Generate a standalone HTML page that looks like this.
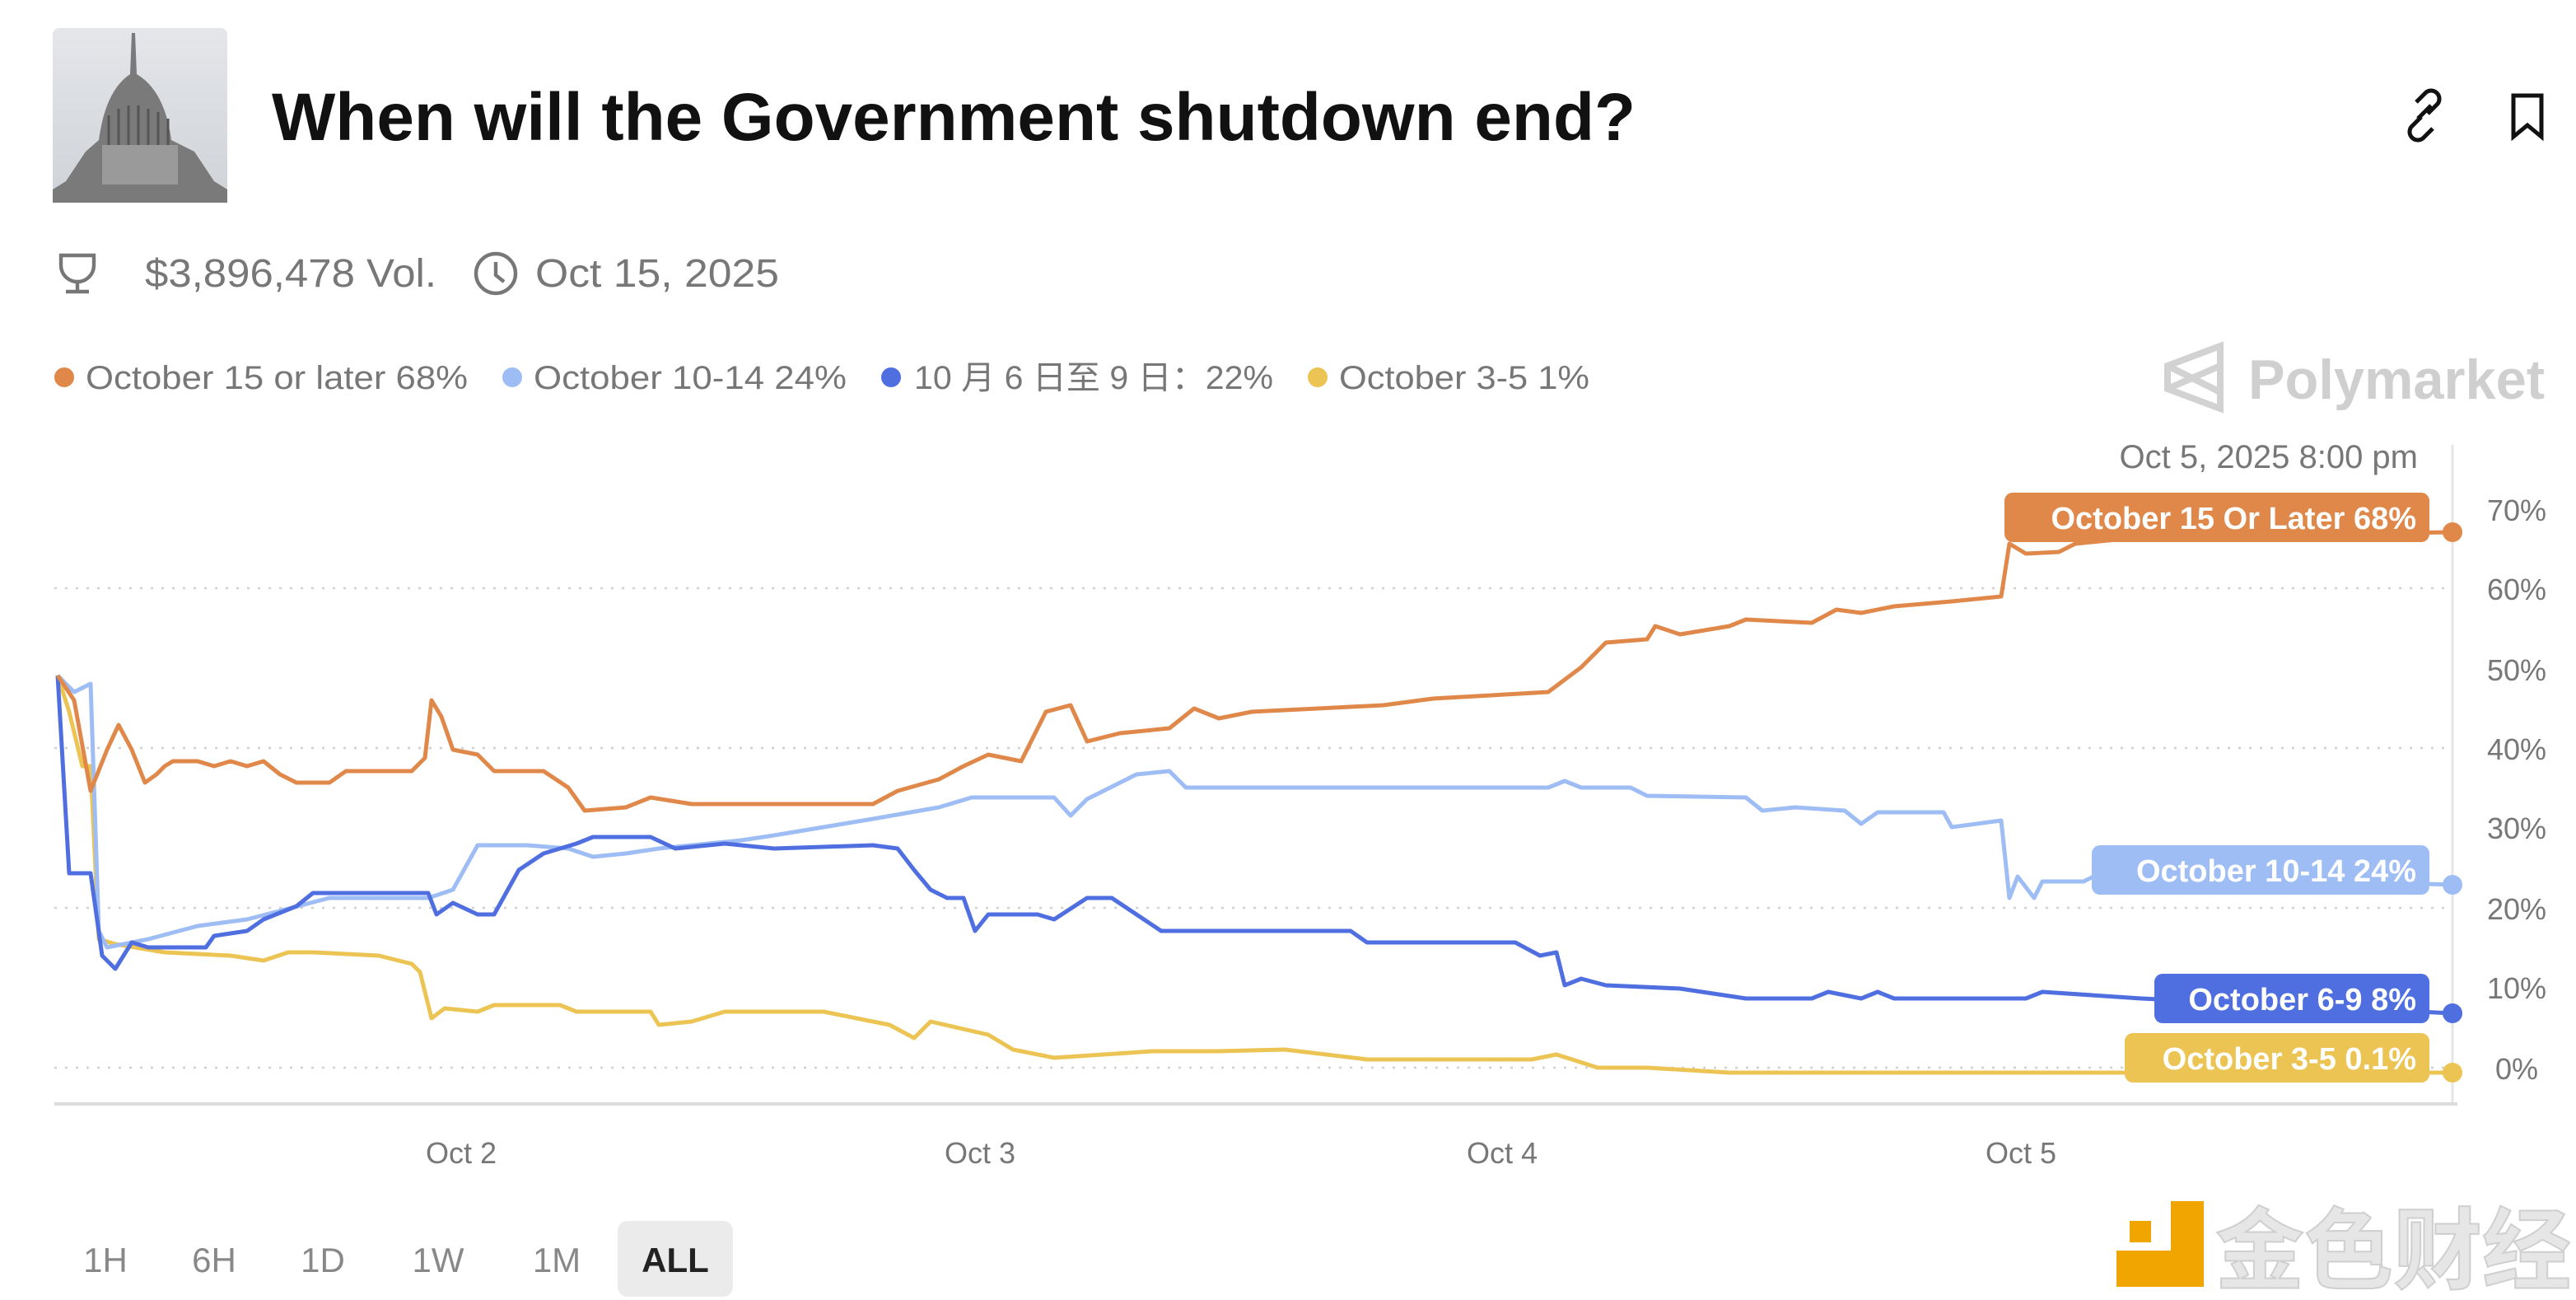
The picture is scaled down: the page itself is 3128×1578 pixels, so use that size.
<!DOCTYPE html>
<html><head><meta charset="utf-8"><style>
html,body{margin:0;padding:0;background:#fff;width:3128px;height:1578px;overflow:hidden}
svg{display:block}
text{font-family:"Liberation Sans","Noto Sans CJK SC",sans-serif}
</style></head><body>
<svg width="3128" height="1578" viewBox="0 0 1564 789" xmlns="http://www.w3.org/2000/svg">
<defs><linearGradient id="sky" x1="0" y1="0" x2="0" y2="1"><stop offset="0" stop-color="#e4e6ea"/><stop offset="1" stop-color="#cfd2d6"/></linearGradient></defs>
<rect x="32" y="17" width="106" height="106" rx="4" fill="url(#sky)"/>
<path d="M80 20 L82 20 L83 45 Q100 55 104 85 L118 92 L130 110 L138 115 L138 123 L32 123 L32 115 L40 110 L52 92 L60 85 Q64 55 79 45 Z" fill="#7a7a7a"/>
<path d="M62 88 L108 88 L108 112 L62 112 Z" fill="#9a9a9a"/>
<g stroke="#555" stroke-width="1.5"><line x1="66" y1="70" x2="66" y2="88"/><line x1="72" y1="66" x2="72" y2="88"/><line x1="78" y1="64" x2="78" y2="88"/><line x1="84" y1="64" x2="84" y2="88"/><line x1="90" y1="66" x2="90" y2="88"/><line x1="96" y1="68" x2="96" y2="88"/><line x1="102" y1="72" x2="102" y2="88"/></g>
<text x="165" y="85" font-size="41" font-weight="bold" fill="#111" textLength="828" lengthAdjust="spacingAndGlyphs">When will the Government shutdown end?</text>
<g fill="none" stroke="#111" stroke-width="2.5"><path d="M1467 62 l6 -6 a5 5 0 0 1 7 7 l-6 6"/><path d="M1477 78 l-6 6 a5 5 0 0 1 -7 -7 l6 -6"/><line x1="1468" y1="72" x2="1476" y2="64"/>
<path d="M1526 58 h17 v25 l-8.5 -7 l-8.5 7 z"/></g>
<g fill="none" stroke="#777" stroke-width="2.2"><path d="M37 155 h20 v6 a10 10 0 0 1 -20 0 z"/><line x1="47" y1="171" x2="47" y2="176"/><line x1="40" y1="177" x2="54" y2="177"/><circle cx="301" cy="166" r="12"/><path d="M301 159 v8 l5 4"/></g>
<text x="88" y="174" font-size="24" fill="#777" textLength="177" lengthAdjust="spacingAndGlyphs">$3,896,478 Vol.</text>
<text x="325" y="174" font-size="24" fill="#777" textLength="148" lengthAdjust="spacingAndGlyphs">Oct 15, 2025</text>
<g font-size="20" fill="#777">
<circle cx="39" cy="229" r="6" fill="#e0884a"/><text x="52" y="236" textLength="232" lengthAdjust="spacingAndGlyphs">October 15 or later 68%</text>
<circle cx="311" cy="229" r="6" fill="#9dbdf4"/><text x="324" y="236" textLength="190" lengthAdjust="spacingAndGlyphs">October 10-14 24%</text>
<circle cx="541" cy="229" r="6" fill="#4f6ee0"/><text x="555" y="236" textLength="218" lengthAdjust="spacingAndGlyphs">10 月 6 日至 9 日：22%</text>
<circle cx="800" cy="229" r="6" fill="#ecc454"/><text x="813" y="236" textLength="152" lengthAdjust="spacingAndGlyphs">October 3-5 1%</text>
</g>
<path d="M1316 222 L1348 210 L1348 248 L1316 236 Z M1316 222 L1348 238 M1316 236 L1348 222" fill="none" stroke="#d2d2d2" stroke-width="4"/>
<text x="1365" y="242" font-size="34" font-weight="bold" fill="#cfcfcf" textLength="180" lengthAdjust="spacingAndGlyphs">Polymarket</text>
<text x="1468" y="284" font-size="20" fill="#777" text-anchor="end">Oct 5, 2025 8:00 pm</text>
<g stroke="#d0d0d0" stroke-width="1.2" stroke-dasharray="1.5 5"><line x1="33" y1="357" x2="1485" y2="357"/><line x1="33" y1="454" x2="1485" y2="454"/><line x1="33" y1="551" x2="1485" y2="551"/><line x1="33" y1="648" x2="1485" y2="648"/></g>
<line x1="1489" y1="270" x2="1489" y2="670" stroke="#e6e6e6" stroke-width="1.5"/>
<line x1="33" y1="670" x2="1492" y2="670" stroke="#dcdcdc" stroke-width="2"/>
<g font-size="18" fill="#777"><text x="1510" y="316">70%</text><text x="1510" y="364">60%</text><text x="1510" y="413">50%</text><text x="1510" y="461">40%</text><text x="1510" y="509">30%</text><text x="1510" y="558">20%</text><text x="1510" y="606">10%</text><text x="1515" y="655">0%</text></g>
<g font-size="18" fill="#777" text-anchor="middle"><text x="280" y="706">Oct 2</text><text x="595" y="706">Oct 3</text><text x="912" y="706">Oct 4</text><text x="1227" y="706">Oct 5</text></g>
<g fill="none" stroke-width="2.5" stroke-linejoin="round">
<polyline stroke="#ecc454" points="35,410 42,432 50,465 55,465 60,570 70,573 100,578 140,580 160,583 175,578 190,578 230,580 250,585 255,590 262,618 270,612 290,614 300,610 340,610 350,614 395,614 400,622 420,620 440,614 500,614 540,622 555,630 565,620 600,628 615,637 640,642 700,638 740,638 780,637 830,643 930,643 945,640 970,648 1000,648 1050,651 1489,651"/>
<polyline stroke="#9dbdf4" points="35,410 45,420 55,415 60,565 65,575 90,570 120,562 150,558 200,545 260,545 275,540 290,513 320,513 345,515 360,520 380,518 400,515 450,510 470,507 500,502 530,497 570,490 590,484 640,484 650,495 660,485 690,470 710,468 720,478 940,478 950,474 960,478 990,478 1000,483 1060,484 1070,492 1090,490 1120,492 1130,500 1140,493 1180,493 1185,502 1215,498 1220,545 1225,532 1235,545 1240,535 1265,535 1275,530 1489,537"/>
<polyline stroke="#4f6ee0" points="35,410 42,530 55,530 62,580 70,588 80,572 90,575 125,575 130,568 150,565 160,558 180,550 190,542 260,542 265,555 275,548 290,555 300,555 315,528 330,518 350,512 360,508 395,508 410,515 440,512 470,515 530,513 545,515 555,528 565,540 575,545 585,545 592,565 600,555 630,555 640,558 660,545 675,545 690,555 705,565 820,565 830,572 920,572 935,580 945,578 950,598 960,594 975,598 1020,600 1060,606 1100,606 1110,602 1130,606 1140,602 1150,606 1230,606 1240,602 1300,606 1489,615"/>
<polyline stroke="#e0884a" points="35,410 45,425 55,480 65,455 72,440 80,455 88,475 95,470 100,465 105,462 120,462 130,465 140,462 150,465 160,462 170,470 180,475 200,475 210,468 250,468 258,460 262,425 268,435 275,455 290,458 300,468 330,468 345,478 355,492 380,490 395,484 420,488 530,488 545,480 570,473 585,465 600,458 620,462 635,432 650,428 660,450 680,445 710,442 725,430 740,436 760,432 800,430 840,428 870,424 940,420 960,405 975,390 1000,388 1005,380 1020,385 1050,380 1060,376 1100,378 1115,370 1130,372 1150,368 1185,365 1215,362 1220,330 1230,336 1250,335 1260,330 1300,326 1489,323"/>
</g>
<g font-size="19" font-weight="bold" fill="#fff" text-anchor="end">
<rect x="1217" y="299" width="258" height="30" rx="5" fill="#e0884a"/><text x="1467" y="321">October 15 Or Later 68%</text>
<rect x="1270" y="513" width="205" height="30" rx="5" fill="#9dbdf4"/><text x="1467" y="535">October 10-14 24%</text>
<rect x="1308" y="591" width="167" height="30" rx="5" fill="#4f6ee0"/><text x="1467" y="613">October 6-9 8%</text>
<rect x="1290" y="627" width="185" height="30" rx="5" fill="#ecc454"/><text x="1467" y="649">October 3-5 0.1%</text>
</g>
<circle cx="1489" cy="323" r="6" fill="#e0884a"/><circle cx="1489" cy="537" r="6" fill="#9dbdf4"/><circle cx="1489" cy="615" r="6" fill="#4f6ee0"/><circle cx="1489" cy="651" r="6" fill="#ecc454"/>
<rect x="375" y="741" width="70" height="46" rx="6" fill="#ebebeb"/>
<g font-size="21" fill="#888" text-anchor="middle"><text x="64" y="772">1H</text><text x="130" y="772">6H</text><text x="196" y="772">1D</text><text x="266" y="772">1W</text><text x="338" y="772">1M</text><text x="410" y="772" fill="#222" font-weight="bold">ALL</text></g>
<path d="M1318 729 h20 v52 h-53 v-22 h33 z" fill="#f0a500"/><rect x="1293" y="741" width="13" height="13" fill="#f0a500"/>
<text x="1345" y="778" font-size="54" font-weight="bold" fill="#e6e6e6" stroke="#cfcfcf" stroke-width="1">金色财经</text>
</svg>
</body></html>
